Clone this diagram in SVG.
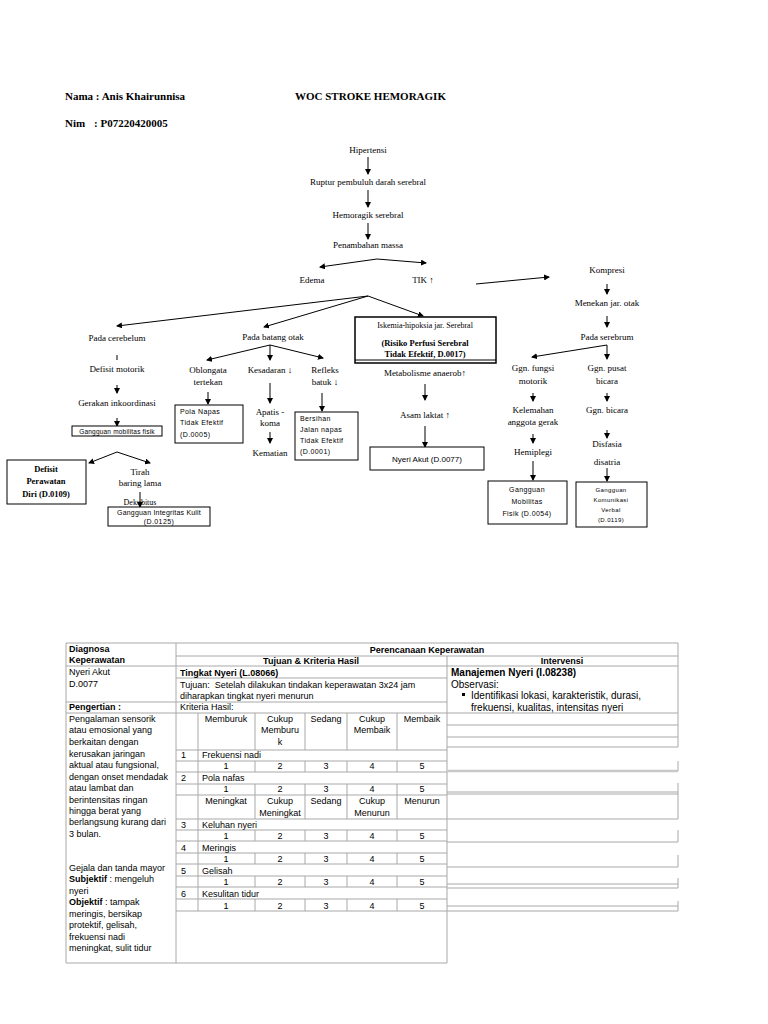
<svg xmlns="http://www.w3.org/2000/svg" width="768" height="1024" viewBox="0 0 768 1024">
<style>
text{fill:#000}
.s{font-family:"Liberation Serif",serif;font-size:9px;text-anchor:middle}
.sb{font-family:"Liberation Serif",serif;font-size:8.5px;font-weight:bold;text-anchor:middle}
.h{font-family:"Liberation Serif",serif;font-size:11px;font-weight:bold}
.bx{font-family:"Liberation Sans",sans-serif;font-size:7px;letter-spacing:0.4px}
.bxm{font-family:"Liberation Sans",sans-serif;font-size:7px;letter-spacing:0.4px;text-anchor:middle}
.t{font-family:"Liberation Sans",sans-serif;font-size:9px}
.ti{font-family:"Liberation Sans",sans-serif;font-size:10px}
.tc{font-family:"Liberation Sans",sans-serif;font-size:9px;text-anchor:middle}
.tb{font-family:"Liberation Sans",sans-serif;font-size:9px;font-weight:bold}
.tbc{font-family:"Liberation Sans",sans-serif;font-size:9px;font-weight:bold;text-anchor:middle}
.box{fill:#fff;stroke:#000;stroke-width:1}
.c{fill:none;stroke:#000;stroke-width:1}
.a{fill:none;stroke:#000;stroke-width:1;marker-end:url(#ah)}
.g{fill:none;stroke:#a8a8a8;stroke-width:1}
</style>
<defs>
<marker id="ah" markerUnits="userSpaceOnUse" markerWidth="6" markerHeight="6" refX="5" refY="3" orient="auto">
<path d="M0,0 L6,3 L0,6 z" fill="#000"/>
</marker>
</defs>
<rect width="768" height="1024" fill="#fff"/>

<g id="header">
<text class="h" x="65" y="100">Nama : Anis Khairunnisa</text>
<text class="h" x="295" y="100">WOC STROKE HEMORAGIK</text>
<text class="h" x="65" y="127">Nim</text>
<text class="h" x="94" y="127">: P07220420005</text>
</g>

<g id="connectors">
<path class="a" d="M368,157 L368,174"/>
<path class="a" d="M368,190 L368,207"/>
<path class="a" d="M368,223 L368,239"/>
<path class="a" d="M377,259 L320,267"/>
<path class="a" d="M377,259 L426,263"/>
<path class="a" d="M476,284 L549,277"/>
<path class="a" d="M607,284 L607,294"/>
<path class="a" d="M607,316 L607,327"/>
<path class="a" d="M607,345 L532,357"/>
<path class="a" d="M607,345 L607,359"/>
<path class="a" d="M533,393 L533,401"/>
<path class="a" d="M607,393 L607,401"/>
<path class="a" d="M533,434 L533,443"/>
<path class="a" d="M607,430 L607,438"/>
<path class="a" d="M533,461 L533,480"/>
<path class="a" d="M607,468 L607,481"/>
<path class="a" d="M368,296 L117,326"/>
<path class="a" d="M368,296 L264,327"/>
<path class="a" d="M368,296 L423,316"/>
<path class="c" d="M117,355 L117,360"/>
<path class="a" d="M117,385 L117,393"/>
<path class="a" d="M117,418 L117,426"/>
<path class="a" d="M117,452 L89,463"/>
<path class="a" d="M117,452 L150,463"/>
<path class="a" d="M140,492 L140,507"/>
<path class="a" d="M270,345 L207,360"/>
<path class="a" d="M270,345 L270,360"/>
<path class="a" d="M270,345 L323,358"/>
<path class="a" d="M208,392 L208,404"/>
<path class="a" d="M270,383 L270,403"/>
<path class="a" d="M322,393 L322,411"/>
<path class="a" d="M270,432 L270,443"/>
<path class="a" d="M425,384 L425,400"/>
<path class="a" d="M425,426 L425,447"/>
</g>

<g id="hipertensi"><text class="s" x="368" y="153">Hipertensi</text></g>
<g id="ruptur"><text class="s" x="368" y="185">Ruptur pembuluh darah serebral</text></g>
<g id="hemoragik"><text class="s" x="368" y="218">Hemoragik serebral</text></g>
<g id="penambahan"><text class="s" x="368" y="248">Penambahan massa</text></g>
<g id="edema"><text class="s" x="312" y="283">Edema</text></g>
<g id="tik"><text class="s" x="423" y="283">TIK ↑</text></g>
<g id="kompresi"><text class="s" x="607" y="273">Kompresi</text></g>
<g id="menekan"><text class="s" x="607" y="306">Menekan jar. otak</text></g>
<g id="serebrum"><text class="s" x="607" y="340">Pada serebrum</text></g>
<g id="ggn-fungsi"><text class="s" x="533" y="371">Ggn. fungsi</text><text class="s" x="533" y="384">motorik</text></g>
<g id="ggn-pusat"><text class="s" x="607" y="371">Ggn. pusat</text><text class="s" x="607" y="384">bicara</text></g>
<g id="kelemahan"><text class="s" x="533" y="413">Kelemahan</text><text class="s" x="533" y="425">anggota gerak</text></g>
<g id="ggn-bicara"><text class="s" x="607" y="413">Ggn. bicara</text></g>
<g id="hemiplegi"><text class="s" x="533" y="455">Hemiplegi</text></g>
<g id="disfasia"><text class="s" x="607" y="447">Disfasia</text><text class="s" x="607" y="465">disatria</text></g>
<g id="mobilitas-fisik">
<rect class="box" x="488" y="481" width="79" height="43"/>
<text class="bxm" x="527" y="492">Gangguan</text>
<text class="bxm" x="527" y="504">Mobilitas</text>
<text class="bxm" x="527" y="516">Fisik (D.0054)</text>
</g>
<g id="komunikasi">
<rect class="box" x="576" y="482" width="71" height="45"/>
<text class="bxm" x="611" y="492" style="font-size:6px">Gangguan</text>
<text class="bxm" x="611" y="502" style="font-size:6px">Komunikasi</text>
<text class="bxm" x="611" y="512" style="font-size:6px">Verbal</text>
<text class="bxm" x="611" y="522" style="font-size:6px">(D.0119)</text>
</g>

<g id="cerebelum"><text class="s" x="117" y="341">Pada cerebelum</text></g>
<g id="defisit-motorik"><text class="s" x="117" y="372">Defisit motorik</text></g>
<g id="gerakan"><text class="s" x="117" y="406">Gerakan inkoordinasi</text></g>
<g id="mobilitas-fisik-2">
<rect class="box" x="72" y="426" width="90" height="10"/>
<text class="bxm" x="117" y="434" style="font-size:6.5px;letter-spacing:0.2px">Gangguan mobilitas fisik</text>
</g>
<g id="defisit-perawatan">
<rect class="box" x="7" y="460" width="79" height="44"/>
<text class="sb" x="46" y="472">Defisit</text>
<text class="sb" x="46" y="484">Perawatan</text>
<text class="sb" x="46" y="497">Diri (D.0109)</text>
</g>
<g id="tirah"><text class="s" x="140" y="475">Tirah</text><text class="s" x="140" y="486">baring lama</text></g>
<g id="dekubitus"><text class="s" x="140" y="505" style="font-size:8px">Dekubitus</text></g>
<g id="integritas-kulit">
<rect class="box" x="108" y="507" width="102" height="19"/>
<text class="bxm" x="159" y="515" style="letter-spacing:0.2px">Gangguan Integritas Kulit</text>
<text class="bxm" x="159" y="524">(D.0125)</text>
</g>

<g id="batang-otak"><text class="s" x="273" y="340">Pada batang otak</text></g>
<g id="oblongata"><text class="s" x="208" y="373">Oblongata</text><text class="s" x="208" y="385">tertekan</text></g>
<g id="kesadaran"><text class="s" x="270" y="373">Kesadaran ↓</text></g>
<g id="refleks"><text class="s" x="325" y="373">Refleks</text><text class="s" x="325" y="385">batuk ↓</text></g>
<g id="pola-napas">
<rect class="box" x="175" y="405" width="68" height="38"/>
<text class="bx" x="180" y="414">Pola Napas</text>
<text class="bx" x="180" y="425">Tidak Efektif</text>
<text class="bx" x="180" y="437">(D.0005)</text>
</g>
<g id="apatis"><text class="s" x="270" y="415">Apatis -</text><text class="s" x="270" y="426">koma</text></g>
<g id="kematian"><text class="s" x="270" y="456">Kematian</text></g>
<g id="bersihan">
<rect class="box" x="295" y="412" width="63" height="48"/>
<text class="bx" x="300" y="421">Bersihan</text>
<text class="bx" x="300" y="432">Jalan napas</text>
<text class="bx" x="300" y="443">Tidak Efektif</text>
<text class="bx" x="300" y="454">(D.0001)</text>
</g>

<g id="iskemia">
<rect class="box" x="355" y="317" width="141" height="46" style="stroke-width:1.5"/>
<line class="c" x1="355" y1="360" x2="496" y2="360"/>
<text class="s" x="425" y="328" style="font-size:8px">Iskemia-hipoksia jar. Serebral</text>
<text class="sb" x="425" y="346">(Risiko Perfusi Serebral</text>
<text class="sb" x="425" y="357">Tidak Efektif, D.0017)</text>
</g>
<g id="metabolisme"><text class="s" x="425" y="376">Metabolisme anaerob↑</text></g>
<g id="asam-laktat"><text class="s" x="425" y="418">Asam laktat ↑</text></g>
<g id="nyeri-akut">
<rect class="box" x="370" y="447" width="114" height="23"/>
<text class="bxm" x="427" y="462" style="font-size:8px;letter-spacing:0">Nyeri Akut (D.0077)</text>
</g>

<g id="table">
<g id="table-lines">
<path class="g" d="M66,643 H678 M176,656 H678 M66,666 H678 M176,678 H447 M66,702 H447 M66,713 H678 M447,725 H678 M447,737 H678 M447,747 H678 M66,963 H447"/>
<path class="g" d="M66,643 V963 M176,643 V963 M447,656 V963 M678,643 V747"/>
<path class="g" d="M176,750 H447 M176,761 H447 M176,772 H447 M176,784 H447 M176,795 H447 M176,819 H447 M176,830 H447 M176,841 H447 M176,853 H447 M176,864 H447 M176,876 H447 M176,887 H447 M176,899 H447 M176,911 H447"/>
<path class="g" d="M198,713 V911 M255,713 V750 M305,713 V750 M347,713 V750 M397,713 V750 M255,761 V772 M305,761 V772 M347,761 V772 M397,761 V772 M255,784 V819 M305,784 V819 M347,784 V819 M397,784 V819 M255,830 V841 M305,830 V841 M347,830 V841 M397,830 V841 M255,853 V864 M305,853 V864 M347,853 V864 M397,853 V864 M255,876 V887 M305,876 V887 M347,876 V887 M397,876 V887 M255,899 V911 M305,899 V911 M347,899 V911 M397,899 V911"/>
<path class="g" d="M447,792 H678 M447,794 H678 M447,819 H678 M447,842 H678 M447,867 H678 M447,884 H678 M447,888 H678 M447,906 H678 M447,911 H678"/>
<path class="g" d="M678,761 V771 M678,783 V819 M678,830 V842 M678,855 V867 M678,878 V888 M678,901 V911"/>
<path d="M447,771 H678" stroke="#c8c8c8" stroke-width="2.5" fill="none"/>
</g>
<g id="table-text">
<text class="tb" x="69" y="652">Diagnosa</text>
<text class="tb" x="69" y="663">Keperawatan</text>
<text class="tbc" x="427" y="653">Perencanaan Keperawatan</text>
<text class="tbc" x="311" y="664">Tujuan &amp; Kriteria Hasil</text>
<text class="tbc" x="562" y="664">Intervensi</text>
<text class="t" x="69" y="675">Nyeri Akut</text>
<text class="t" x="69" y="687">D.0077</text>
<text class="tb" x="180" y="676">Tingkat Nyeri (L.08066)</text>
<text class="t" x="180" y="688" xml:space="preserve">Tujuan:  Setelah dilakukan tindakan keperawatan 3x24 jam</text>
<text class="t" x="180" y="699">diharapkan tingkat nyeri menurun</text>
<text class="ti" x="451" y="676" font-weight="bold">Manajemen Nyeri (I.08238)</text>
<text class="ti" x="451" y="688">Observasi:</text>
<rect x="462" y="693" width="3" height="3" fill="#000"/>
<text class="ti" x="471" y="699">Identifikasi lokasi, karakteristik, durasi,</text>
<text class="ti" x="471" y="711">frekuensi, kualitas, intensitas nyeri</text>
<text class="tb" x="69" y="710">Pengertian :</text>
<text class="t" x="180" y="710">Kriteria Hasil:</text>

<text class="t" x="69" y="722">Pengalaman sensorik</text>
<text class="t" x="69" y="733">atau emosional yang</text>
<text class="t" x="69" y="745">berkaitan dengan</text>
<text class="t" x="69" y="757">kerusakan jaringan</text>
<text class="t" x="69" y="768">aktual atau fungsional,</text>
<text class="t" x="69" y="780">dengan onset mendadak</text>
<text class="t" x="69" y="791">atau lambat dan</text>
<text class="t" x="69" y="803">berintensitas ringan</text>
<text class="t" x="69" y="814">hingga berat yang</text>
<text class="t" x="69" y="825">berlangsung kurang dari</text>
<text class="t" x="69" y="837">3 bulan.</text>
<text class="t" x="69" y="871">Gejala dan tanda mayor</text>
<text class="t" x="69" y="882"><tspan font-weight="bold">Subjektif</tspan> : mengeluh</text>
<text class="t" x="69" y="894">nyeri</text>
<text class="t" x="69" y="905"><tspan font-weight="bold">Objektif</tspan> : tampak</text>
<text class="t" x="69" y="917">meringis, bersikap</text>
<text class="t" x="69" y="928">protektif, gelisah,</text>
<text class="t" x="69" y="940">frekuensi nadi</text>
<text class="t" x="69" y="951">meningkat, sulit tidur</text>

<text class="tc" x="226" y="722">Memburuk</text>
<text class="tc" x="280" y="722">Cukup</text>
<text class="tc" x="280" y="733">Memburu</text>
<text class="tc" x="280" y="745">k</text>
<text class="tc" x="326" y="722">Sedang</text>
<text class="tc" x="372" y="722">Cukup</text>
<text class="tc" x="372" y="733">Membaik</text>
<text class="tc" x="422" y="722">Membaik</text>

<text class="t" x="181" y="758">1</text><text class="t" x="202" y="758">Frekuensi nadi</text>
<text class="tc" x="226" y="769">1</text><text class="tc" x="280" y="769">2</text><text class="tc" x="326" y="769">3</text><text class="tc" x="372" y="769">4</text><text class="tc" x="422" y="769">5</text>
<text class="t" x="181" y="781">2</text><text class="t" x="202" y="781">Pola nafas</text>
<text class="tc" x="226" y="792">1</text><text class="tc" x="280" y="792">2</text><text class="tc" x="326" y="792">3</text><text class="tc" x="372" y="792">4</text><text class="tc" x="422" y="792">5</text>
<text class="tc" x="226" y="804">Meningkat</text>
<text class="tc" x="280" y="804">Cukup</text>
<text class="tc" x="280" y="816">Meningkat</text>
<text class="tc" x="326" y="804">Sedang</text>
<text class="tc" x="372" y="804">Cukup</text>
<text class="tc" x="372" y="816">Menurun</text>
<text class="tc" x="422" y="804">Menurun</text>
<text class="t" x="181" y="828">3</text><text class="t" x="202" y="828">Keluhan nyeri</text>
<text class="tc" x="226" y="839">1</text><text class="tc" x="280" y="839">2</text><text class="tc" x="326" y="839">3</text><text class="tc" x="372" y="839">4</text><text class="tc" x="422" y="839">5</text>
<text class="t" x="181" y="851">4</text><text class="t" x="202" y="851">Meringis</text>
<text class="tc" x="226" y="862">1</text><text class="tc" x="280" y="862">2</text><text class="tc" x="326" y="862">3</text><text class="tc" x="372" y="862">4</text><text class="tc" x="422" y="862">5</text>
<text class="t" x="181" y="874">5</text><text class="t" x="202" y="874">Gelisah</text>
<text class="tc" x="226" y="885">1</text><text class="tc" x="280" y="885">2</text><text class="tc" x="326" y="885">3</text><text class="tc" x="372" y="885">4</text><text class="tc" x="422" y="885">5</text>
<text class="t" x="181" y="897">6</text><text class="t" x="202" y="897">Kesulitan tidur</text>
<text class="tc" x="226" y="909">1</text><text class="tc" x="280" y="909">2</text><text class="tc" x="326" y="909">3</text><text class="tc" x="372" y="909">4</text><text class="tc" x="422" y="909">5</text>
</g>
</g>
</svg>
